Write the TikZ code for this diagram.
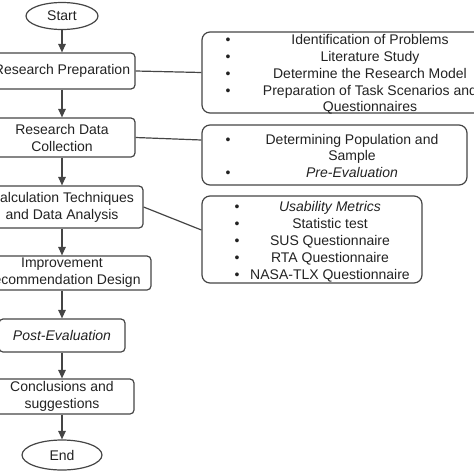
\documentclass[tikz,border=0pt]{standalone}
\usepackage{fontspec}
\setmainfont{Liberation Sans}
\usetikzlibrary{arrows.meta,calc,shapes.geometric}
\definecolor{ln}{HTML}{454545}
\definecolor{txt}{HTML}{222222}
\begin{document}
\begin{tikzpicture}[x=1pt,y=-1pt,
  every node/.style={font=\fontsize{14}{17}\selectfont, text=txt},
  lbox/.style={draw=ln, line width=1.2pt, rounded corners=4pt, align=center, inner sep=0pt},
  rbox/.style={draw=ln, line width=1.2pt, rounded corners=8pt, inner sep=0pt},
  term/.style={ellipse, draw=ln, line width=1.2pt, inner sep=0pt},
  arr/.style={draw=ln, line width=1.2pt, -{Triangle[length=8.5pt,width=7.5pt]}},
  link/.style={draw=ln, line width=1.2pt},
  bul/.style={anchor=base, inner sep=0pt},
  itemtxt/.style={anchor=base, inner sep=0pt},
]
\useasboundingbox (0,0) rectangle (474,474);
\clip (0,0) rectangle (474,474);
% left flow
\node[term, minimum width=72pt, minimum height=27pt] (start) at (62,16) {Start};
\node[lbox, minimum width=146pt, minimum height=36pt] (rp) at (62,71) {Research Preparation};
\node[lbox, minimum width=146pt, minimum height=39pt] (rdc) at (62,137.5) {Research Data\\Collection};
\node[lbox, minimum width=162pt, minimum height=42pt] (cta) at (62,207) {Calculation Techniques\\and Data Analysis};
\node[lbox, minimum width=178pt, minimum height=34pt] (ird) at (62,273) {Improvement\\Recommendation Design};
\node[lbox, minimum width=126pt, minimum height=33pt] (pe) at (62,335.5) {\textit{Post-Evaluation}};
\node[lbox, minimum width=144pt, minimum height=35pt] (cs) at (62,396.5) {Conclusions and\\suggestions};
\node[term, minimum width=80pt, minimum height=30pt] (end) at (62,455) {End};
% right boxes
\node[rbox, minimum width=340pt, minimum height=81pt] (b1) at (372,72.5) {};
\node[rbox, minimum width=265pt, minimum height=60pt] (b2) at (334.5,155) {};
\node[rbox, minimum width=220pt, minimum height=87pt] (b3) at (312,239.5) {};
% box 1 contents
\node[bul] (b1b1) at (228,44) {•};
\node[bul] (b1b2) at (228,61) {•};
\node[bul] (b1b3) at (228,78) {•};
\node[bul] (b1b4) at (228,95) {•};
\node[itemtxt] (b1t1) at (370,44) {Identification of Problems};
\node[itemtxt] (b1t2) at (370,61) {Literature Study};
\node[itemtxt] (b1t3) at (370,78) {Determine the Research Model};
\node[itemtxt] (b1t4) at (370,95) {Preparation of Task Scenarios and};
\node[itemtxt] (b1t5) at (370,111) {Questionnaires};
% box 2 contents
\node[bul] (b2b1) at (228,144) {•};
\node[bul] (b2b2) at (228,177) {•};
\node[itemtxt] (b2t1) at (352,144) {Determining Population and};
\node[itemtxt] (b2t2) at (352,160.5) {Sample};
\node[itemtxt] (b2t3) at (352,177) {\textit{Pre-Evaluation}};
% box 3 contents
\node[bul] (b3b1) at (237,211) {•};
\node[bul] (b3b2) at (237,228) {•};
\node[bul] (b3b3) at (237,245) {•};
\node[bul] (b3b4) at (237,262) {•};
\node[bul] (b3b5) at (237,279) {•};
\node[itemtxt] (b3t1) at (330,211) {\textit{Usability Metrics}};
\node[itemtxt] (b3t2) at (330,228) {Statistic test};
\node[itemtxt] (b3t3) at (330,245) {SUS Questionnaire};
\node[itemtxt] (b3t4) at (330,262) {RTA Questionnaire};
\node[itemtxt] (b3t5) at (330,279) {NASA-TLX Questionnaire};
% arrows
\draw[arr] (start) -- (rp);
\draw[arr] (rp) -- (rdc);
\draw[arr] (rdc) -- (cta);
\draw[arr] (cta) -- (ird);
\draw[arr] (ird) -- (pe);
\draw[arr] (pe) -- (cs);
\draw[arr] (cs) -- (end);
% links
\draw[link] (rp.east) -- (b1.west);
\draw[link] (rdc.east) -- ($(b2.west)+(0,-15)$);
\draw[link] (cta.east) -- ($(b3.west)+(0,-9.5)$);
\end{tikzpicture}
\end{document}
